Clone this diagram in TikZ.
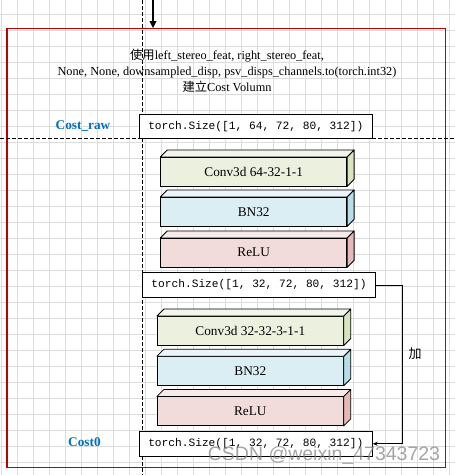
\documentclass[tikz,border=0pt]{standalone}
\usepackage{fontspec}
\setmainfont{Liberation Serif}
\setmonofont{Liberation Mono}
\newfontfamily\cjk{Noto Sans CJK SC}
\newfontfamily\wmfont{Liberation Sans}
\usetikzlibrary{arrows.meta}
\definecolor{gridc}{RGB}{220,220,220}
\definecolor{framered}{RGB}{192,0,0}
\definecolor{costblue}{RGB}{0,112,192}
\definecolor{greenF}{HTML}{EBF1DE}
\definecolor{greenS}{HTML}{D7E4BD}
\definecolor{greenT}{HTML}{F2F6EA}
\definecolor{blueF}{HTML}{DBEEF4}
\definecolor{blueS}{HTML}{B7DEE8}
\definecolor{blueT}{HTML}{EAF5F9}
\definecolor{redF}{HTML}{F2DCDB}
\definecolor{redS}{HTML}{E6B9B8}
\definecolor{redT}{HTML}{F8EAEA}
\tikzset{
  cubebox/.style={draw, line width=0.8pt, minimum width=186pt, minimum height=28.7pt, inner sep=0pt, font=\fontsize{13.3}{16}\selectfont},
  cubeline/.style={draw, line width=0.8pt, line join=round},
  tbox/.style={draw, fill=white, line width=0.8pt, inner sep=0pt, minimum height=24.4pt, font=\ttfamily\fontsize{11.2}{13}\selectfont},
  lbl/.style={font=\bfseries\fontsize{13.3}{16}\selectfont, text=costblue},
  dline/.style={line width=0.8pt, dash pattern=on 4pt off 2pt},
  conn/.style={line width=1pt, -{Stealth[length=5pt,width=4pt]}},
}
\newcommand\mycube[4]{%
  \node[cubebox, fill=#3F] (#1) at #2 {#4};
  \filldraw[cubeline, fill=#3S] (#1.north east) -- ++(7,-7) -- ([shift={(7,-7)}]#1.south east) -- (#1.south east) -- cycle;
  \filldraw[cubeline, fill=#3T] (#1.north west) -- ++(7,-7) -- ([shift={(7,-7)}]#1.north east) -- (#1.north east) -- cycle;
}
\begin{document}
\begin{tikzpicture}[x=1pt,y=-1pt]
\useasboundingbox (0,0) rectangle (455,475);
\fill[white] (0,0) rectangle (455,475);
\foreach \i in {0,...,28} \draw[gridc, line width=0.8pt] ({1.3+16*\i},0) -- ({1.3+16*\i},475);
\foreach \j in {0,...,28} \draw[gridc, line width=0.8pt] (0,{14.3+16*\j}) -- (455,{14.3+16*\j});
% frame
\node[draw=framered, line width=1.1pt, minimum width=438.3pt, minimum height=438.6pt, inner sep=0pt] (frame) at (226.15,248) {};
% dashed guides
\coordinate (dv1) at (142,0);
\coordinate (dv2) at (142,475);
\coordinate (dh1) at (0,138.3);
\coordinate (dh2) at (455,138.3);
\draw[dline] (dv1) -- (dv2);
\draw[dline] (dh1) -- (dh2);
% incoming arrow
\coordinate (in) at (153,0);
\draw[line width=1.8pt, -{Triangle[length=7pt,width=6.5pt]}] (in) -- (in |- frame.north);
% header
\node[align=center, font=\fontsize{12.3}{16}\selectfont] (hdr) at (227,70.5)
  {{\cjk 使用}left\_stereo\_feat, right\_stereo\_feat,\\
   None, None, downsampled\_disp, psv\_disps\_channels.to(torch.int32)\\
   {\cjk 建立}Cost Volumn};
% labels
\node[lbl] (craw) at (83,126) {Cost\_raw};
\node[lbl] (c0) at (84.5,442) {Cost0};
% torch boxes
\node[tbox, minimum width=233pt] (T1) at (255.8,126.4) {torch.Size([1, 64, 72, 80, 312])};
\node[tbox, minimum width=232.6pt] (T2) at (259,285) {torch.Size([1, 32, 72, 80, 312])};
\node[tbox, minimum width=233pt] (T3) at (255.8,443.8) {torch.Size([1, 32, 72, 80, 312])};
% cubes
\mycube{B1}{(253.7,171.7)}{green}{Conv3d 64-32-1-1}
\mycube{B2}{(253.7,211.7)}{blue}{BN32}
\mycube{B3}{(253.7,252.7)}{red}{ReLU}
\mycube{B4}{(250.3,330.8)}{green}{Conv3d 32-32-3-1-1}
\mycube{B5}{(250.3,371)}{blue}{BN32}
\mycube{B6}{(250.3,411.2)}{red}{ReLU}
% residual connector
\draw[conn] (T2.east) -- ++(27,0) |- (T3.east);
\node[font=\cjk\fontsize{13}{14}\selectfont] (jia) at (415,354) {加};
% watermark
\node[text=gray, opacity=0.7, font=\wmfont\fontsize{19.5}{20}\selectfont] (wm) at (324,455) {CSDN @weixin\_47343723};
\end{tikzpicture}
\end{document}
